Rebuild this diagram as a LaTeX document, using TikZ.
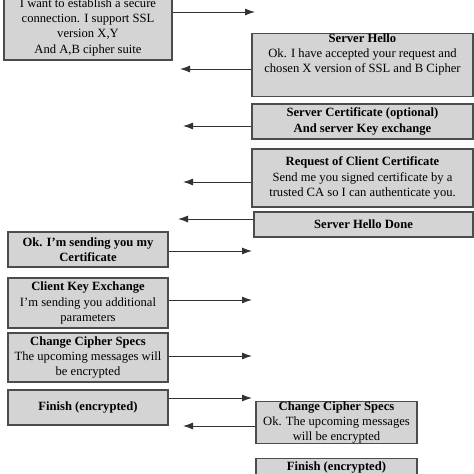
\documentclass[tikz,border=0pt]{standalone}
\usepackage{fontspec}
\setmainfont{Liberation Serif}
\usetikzlibrary{arrows.meta}
\begin{document}
\begin{tikzpicture}[x=1pt,y=-1pt,
  msg/.style={draw=black!70,line width=1.2pt,fill=black!17,align=center,inner sep=0pt,font=\fontsize{12.6}{15.3}\selectfont},
  msgarrow/.style={draw=black!80,line width=1pt,-{Latex[length=10pt,width=7pt]}}]
\useasboundingbox (0,0) rectangle (474,474);
\clip (0,0) rectangle (474,474);
%
\node[msg,minimum width=168,minimum height=70] (clienthello) at (88,25) {\\[-2pt]I want to establish a secure\\connection. I support SSL\\version X,Y\\And A,B cipher suite};
\node[msg,minimum width=221,minimum height=61,anchor=north] (serverhello) at (362.5,33) {\textbf{Server Hello}\\Ok. I have accepted your request and\\chosen X version of SSL and B Cipher\\[8pt]};
\node[msg,minimum width=221,minimum height=35] (servercert) at (362.5,121.5) {\textbf{Server Certificate (optional)}\\\textbf{And server Key exchange}};
\node[msg,minimum width=221,minimum height=58] (certreq) at (362.5,178) {\textbf{Request of Client Certificate}\\Send me you signed certificate by a\\trusted CA so I can authenticate you.};
\node[msg,minimum width=219,minimum height=25] (hellodone) at (363.5,224.5) {\textbf{Server Hello Done}};
%
\node[msg,minimum width=160,minimum height=35] (clientcert) at (88,249.5) {\textbf{Ok. I'm sending you my}\\\textbf{Certificate}};
\node[msg,minimum width=160,minimum height=50] (keyexch) at (88,303) {\textbf{Client Key Exchange}\\I'm sending you additional\\parameters};
\node[msg,minimum width=160,minimum height=49] (clientccs) at (88,357.5) {\textbf{Change Cipher Specs}\\The upcoming messages will\\be encrypted};
\node[msg,minimum width=160,minimum height=35] (clientfin) at (88,407.5) {\textbf{Finish (encrypted)}};
\node[msg,minimum width=161,minimum height=41] (serverccs) at (336.5,422.5) {\textbf{Change Cipher Specs}\\Ok. The upcoming messages\\will be encrypted};
\node[msg,minimum width=161,minimum height=40,anchor=north] (serverfin) at (336.5,458) {};
\node[font=\fontsize{12.6}{15.3}\selectfont\bfseries,inner sep=0pt] (serverfintext) at (336.5,467) {Finish (encrypted)};
%
\coordinate (a1) at (255,12);
\coordinate (a2) at (180,69);
\coordinate (a3) at (183,126);
\coordinate (a4) at (183,182);
\coordinate (a5) at (178,219);
\coordinate (a6) at (252,251);
\coordinate (a7) at (252,300);
\coordinate (a8) at (252,356);
\coordinate (a9) at (252,398);
\coordinate (a10) at (183,426);
%
\draw[msgarrow] (clienthello.east |- a1) -- (a1);
\draw[msgarrow] (serverhello.west |- a2) -- (a2);
\draw[msgarrow] (servercert.west |- a3) -- (a3);
\draw[msgarrow] (certreq.west |- a4) -- (a4);
\draw[msgarrow] (hellodone.west |- a5) -- (a5);
\draw[msgarrow] (clientcert.east |- a6) -- (a6);
\draw[msgarrow] (keyexch.east |- a7) -- (a7);
\draw[msgarrow] (clientccs.east |- a8) -- (a8);
\draw[msgarrow] (clientfin.east |- a9) -- (a9);
\draw[msgarrow] (serverccs.west |- a10) -- (a10);
\end{tikzpicture}
\end{document}
